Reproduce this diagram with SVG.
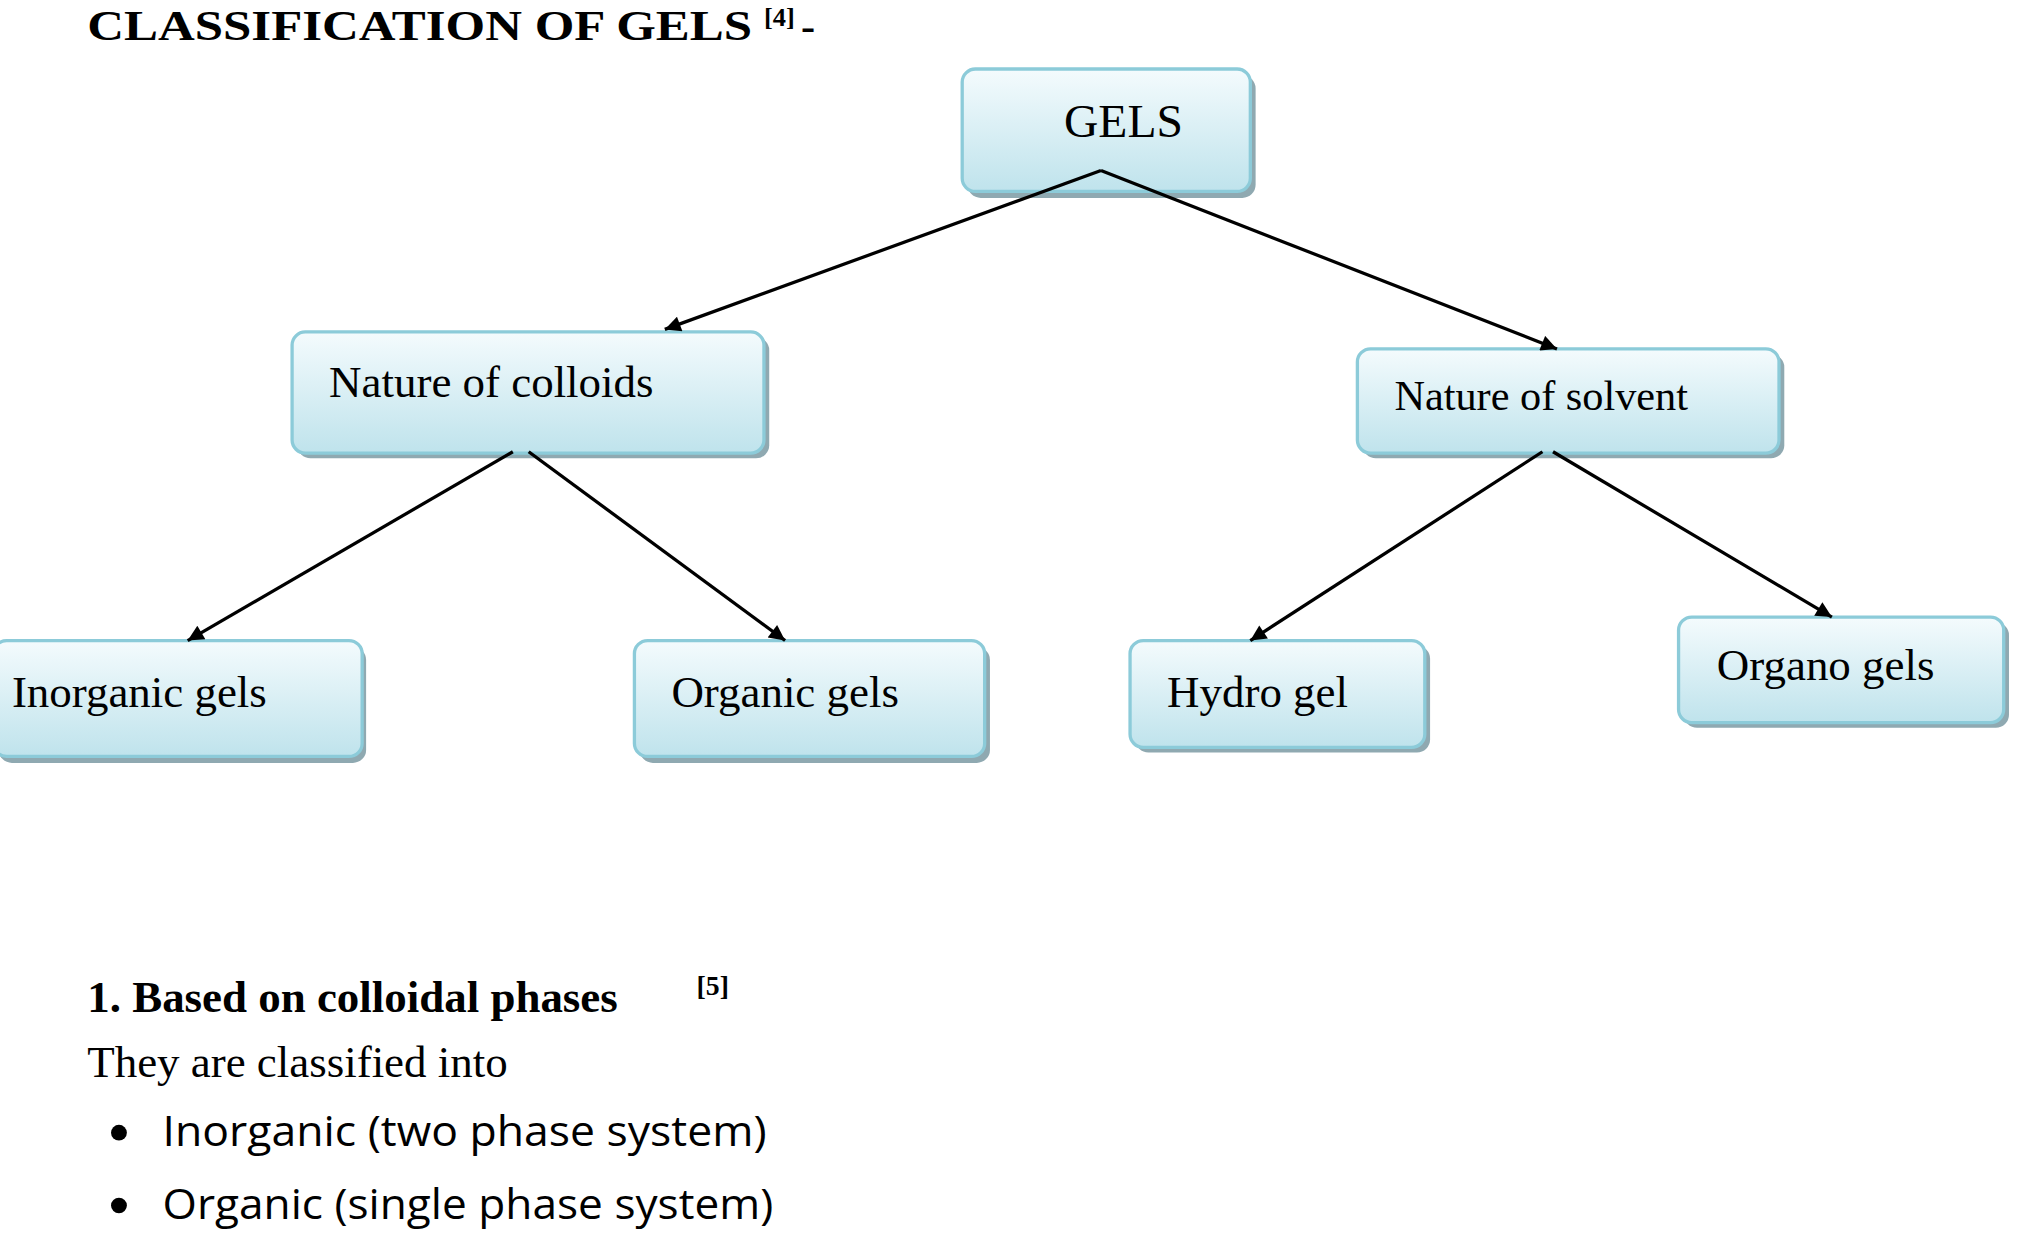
<svg xmlns="http://www.w3.org/2000/svg" width="2042" height="1255" viewBox="0 0 2042 1255">
<defs>
<linearGradient id="g" x1="0" y1="0" x2="0" y2="1"><stop offset="0" stop-color="#f4fbfd"/><stop offset="1" stop-color="#bfe3ec"/></linearGradient>
<marker id="a" viewBox="0 0 10 10" refX="10" refY="5" markerWidth="14" markerHeight="12" markerUnits="userSpaceOnUse" orient="auto"><path d="M0,0L10,5L0,10z" fill="#000"/></marker>
<style>
.sh{fill:#8fa9b1}
.bx{fill:url(#g);stroke:#8ccbd9;stroke-width:2.5}
.t{font-family:"Liberation Serif",serif;font-size:34px;fill:#000}
.c{stroke:#000;stroke-width:2.5;fill:none;marker-end:url(#a)}
.b{font-family:"Open Sans","Liberation Sans",sans-serif;font-size:32px}
</style>
</defs>
<rect width="2042" height="1255" fill="#fff"/>
<g transform="scale(1.3217,1.3019)">
<text x="66" y="31" class="t" style="font-weight:bold;font-size:32px" textLength="503" lengthAdjust="spacingAndGlyphs">CLASSIFICATION OF GELS</text>
<text x="578" y="20" class="t" style="font-weight:bold;font-size:20px">[4]</text>
<text x="606" y="31" class="t" style="font-weight:bold;font-size:32px">-</text>
<g id="n-gels"><rect x="732" y="58" width="218" height="94" rx="10" class="sh"/><rect x="728" y="53" width="218" height="94" rx="10" class="bx"/><text x="850" y="105" class="t" text-anchor="middle" style="font-size:36px">GELS</text></g>
<g id="n-colloids"><rect x="225" y="259" width="357" height="93" rx="10" class="sh"/><rect x="221" y="255" width="357" height="93" rx="10" class="bx"/><text x="249" y="305" class="t">Nature of colloids</text></g>
<g id="n-solvent"><rect x="1031" y="272" width="319" height="80" rx="10" class="sh"/><rect x="1027" y="268" width="319" height="80" rx="10" class="bx"/><text x="1055" y="315" class="t" style="font-size:32px">Nature of solvent</text></g>
<g id="n-inorganic"><rect x="-1" y="497" width="278" height="89" rx="10" class="sh"/><rect x="-5" y="492" width="279" height="89" rx="10" class="bx"/><text x="9" y="543" class="t">Inorganic gels</text></g>
<g id="n-organic"><rect x="484" y="497" width="265" height="89" rx="10" class="sh"/><rect x="480" y="492" width="265" height="89" rx="10" class="bx"/><text x="508" y="543" class="t">Organic gels</text></g>
<g id="n-hydro"><rect x="859" y="496" width="223" height="82" rx="10" class="sh"/><rect x="855" y="492" width="223" height="82" rx="10" class="bx"/><text x="883" y="543" class="t">Hydro gel</text></g>
<g id="n-organo"><rect x="1274" y="478" width="246" height="81" rx="10" class="sh"/><rect x="1270" y="474" width="246" height="81" rx="10" class="bx"/><text x="1299" y="522" class="t">Organo gels</text></g>
<g id="connectors">
<path class="c" d="M833,131L503,253"/>
<path class="c" d="M833,131L1178,268"/>
<path class="c" d="M388,347L142,492"/>
<path class="c" d="M400,347L594,492"/>
<path class="c" d="M1167,347L946,492"/>
<path class="c" d="M1175,347L1386,474"/>
</g>
<text x="66" y="777" class="t" style="font-weight:bold">1. Based on colloidal phases</text>
<text x="527" y="764" class="t" style="font-weight:bold;font-size:21px">[5]</text>
<text x="66" y="827" class="t">They are classified into</text>
<circle cx="90" cy="870" r="6"/>
<text x="123" y="880" class="b" textLength="457" lengthAdjust="spacingAndGlyphs">Inorganic (two phase system)</text>
<circle cx="90" cy="926" r="6"/>
<text x="123" y="936" class="b" textLength="462" lengthAdjust="spacingAndGlyphs">Organic (single phase system)</text>
</g>
</svg>
